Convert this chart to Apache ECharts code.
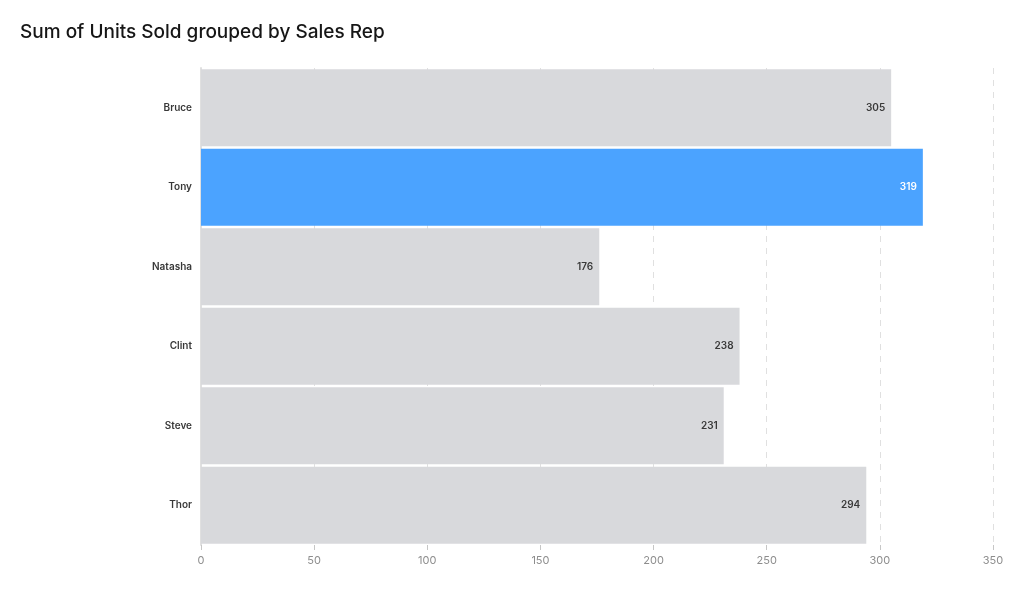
<!DOCTYPE html>
<html><head><meta charset="utf-8">
<script src="https://cdn.jsdelivr.net/npm/echarts@6/dist/echarts.min.js"></script>
<style>html,body{margin:0;padding:0;background:#fff}#c{width:1024px;height:613px}</style>
</head><body><div id="c"></div>
<script>
const title = 'Sum of Units Sold grouped by Sales Rep';
const categories = ['Bruce', 'Tony', 'Natasha', 'Clint', 'Steve', 'Thor'];
const values = [305, 319, 176, 238, 231, 294];
const highlighted = 'Tony';
const xTicks = [0, 50, 100, 150, 200, 250, 300, 350];

const chart = echarts.init(document.getElementById('c'));
chart.setOption({
  animation: false,
  title: { text: title, left: 15, top: 18, textStyle: { fontFamily: 'Inter', fontSize: 19, fontWeight: 500, color: '#161616' } },
  grid: { left: 201, right: 31, top: 68, bottom: 68 },
  xAxis: {
    type: 'value', min: xTicks[0], max: xTicks[xTicks.length - 1], interval: 50,
    axisLine: { show: false },
    axisTick: { show: true, length: 5, lineStyle: { color: '#c6c6c6' } },
    axisLabel: { color: '#8d8d8d', fontSize: 11, fontFamily: 'Inter', margin: 10 },
    splitLine: { show: true, lineStyle: { type: [6, 6], color: '#e0e0e0' } }
  },
  yAxis: {
    type: 'category', data: categories, inverse: true,
    axisLine: { show: true, lineStyle: { color: '#e0e0e0', width: 2 } },
    axisTick: { show: false },
    axisLabel: { color: '#393939', fontSize: 10, fontWeight: 600, fontFamily: 'Inter', margin: 9 }
  },
  series: [{
    type: 'bar',
    barCategoryGap: '3%',
    data: values.map((v, i) => ({
      value: v,
      itemStyle: { color: categories[i] === highlighted ? '#4ba3ff' : '#d8d9dc' },
      label: { color: categories[i] === highlighted ? '#ffffff' : '#393939' }
    })),
    label: { show: true, position: 'insideRight', distance: 6, fontSize: 10, fontFamily: 'Inter', fontWeight: 600 }
  }]
});
</script></body></html>
